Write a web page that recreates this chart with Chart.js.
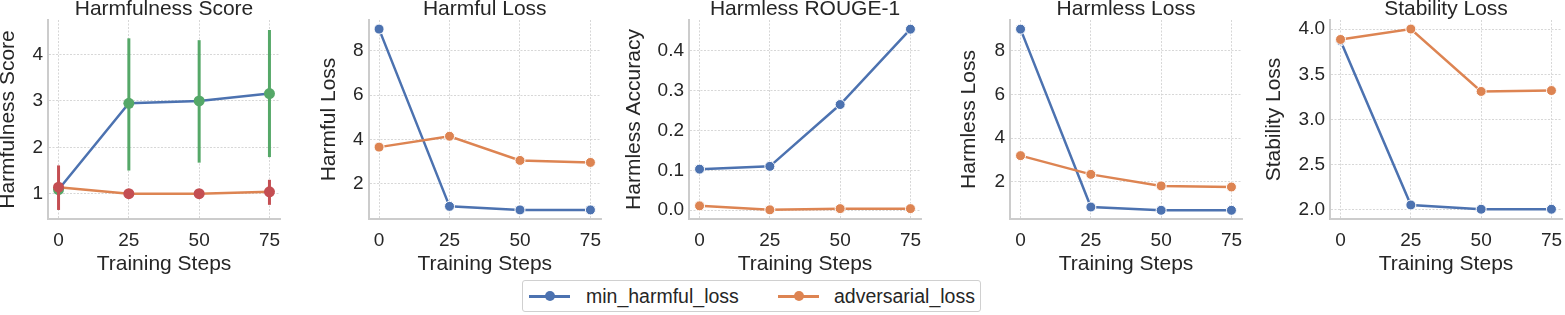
<!DOCTYPE html>
<html>
<head>
<meta charset="utf-8">
<script src="https://cdn.jsdelivr.net/npm/chart.js@4.4.0/dist/chart.umd.min.js"></script>
<style>
  html, body { margin: 0; padding: 0; background: #fff; }
  body { width: 1565px; height: 315px; position: relative; overflow: hidden; font-family: 'Liberation Sans', Arial, sans-serif; }
  canvas { position: absolute; }
  #legend { position: absolute; left: 522px; top: 280px; width: 459px; height: 32px; border: 1px solid #d0d0d0; border-radius: 3px; box-sizing: border-box; }
  .item { position: absolute; top: 0; height: 30px; line-height: 30px; font-size: 19.5px; color: #262626; }
  .swatch { position: absolute; top: 14px; width: 41px; height: 2.5px; }
  .dot { position: absolute; top: -4px; left: 16px; width: 10px; height: 10px; border-radius: 50%; }
</style>
</head>
<body>
<div id="legend">
  <div class="swatch" style="left:6px;background:#4C72B0"><div class="dot" style="background:#4C72B0"></div></div>
  <div class="item" style="left:63px">min_harmful_loss</div>
  <div class="swatch" style="left:255px;background:#DD8452"><div class="dot" style="background:#DD8452"></div></div>
  <div class="item" style="left:311px">adversarial_loss</div>
</div>
<script>
// training steps shared by all panels
const steps = [0, 25, 50, 75];
const xTicks = [0, 25, 50, 75];

// Harmfulness Score (line + point estimates with error bars)
const scoreMin = [1.09, 2.95, 3.00, 3.16];
const scoreAdv = [1.14, 1.00, 1.00, 1.04];
const scoreMinLo = [1.09, 1.50, 1.67, 1.79];
const scoreMinHi = [1.09, 4.35, 4.31, 4.53];
const scoreAdvLo = [0.65, 1.00, 1.00, 0.76];
const scoreAdvHi = [1.61, 1.00, 1.00, 1.30];

const harmfulLossMin = [8.98, 0.99, 0.83, 0.83];
const harmfulLossAdv = [3.66, 4.15, 3.06, 2.97];

const rougeMin = [0.103, 0.110, 0.265, 0.454];
const rougeAdv = [0.011, 0.001, 0.004, 0.004];

const harmlessLossMin = [9.00, 0.83, 0.68, 0.68];
const harmlessLossAdv = [3.19, 2.33, 1.80, 1.75];

const stabilityMin = [3.87, 2.055, 2.008, 2.008];
const stabilityAdv = [3.885, 4.00, 3.31, 3.32];

const titles = ['Harmfulness Score', 'Harmful Loss', 'Harmless ROUGE-1', 'Harmless Loss', 'Stability Loss'];
const yLabels = ['Harmfulness Score', 'Harmful Loss', 'Harmless Accuracy', 'Harmless Loss', 'Stability Loss'];
const yTicks = [[1, 2, 3, 4], [2, 4, 6, 8], [0, 0.1, 0.2, 0.3, 0.4], [2, 4, 6, 8], [2, 2.5, 3, 3.5, 4]];
const yMin = [0.455, 0.42, -0.022, 0.28, 1.9];
const yMax = [4.745, 9.39, 0.477, 9.42, 4.1];

const BLUE = '#4C72B0', ORANGE = '#DD8452', GREEN = '#55A868', RED = '#C44E52';
const FONT = "'Liberation Sans', Arial, sans-serif";
const TXT = '#262626';
const GRID = '#d2d2d2';

const pts = arr => arr.map((v, i) => ({ x: steps[i], y: v }));

function lineSet(label, arr, color, order, markers) {
  return {
    label, data: pts(arr), order,
    borderColor: color, backgroundColor: color, borderWidth: 2.5,
    pointRadius: markers ? 5 : 0, pointBorderColor: '#fff', pointBorderWidth: 1,
    pointBackgroundColor: color
  };
}
function pointSet(arr, lo, hi, color, order) {
  return {
    data: pts(arr), order, showLine: false, errLo: lo, errHi: hi,
    borderColor: color, backgroundColor: color,
    pointRadius: 5.5, pointBorderWidth: 0, pointBackgroundColor: color
  };
}

// vertical error bars drawn just before their dataset's points
const errorBars = {
  id: 'errorBars',
  beforeDatasetDraw(chart, args) {
    const ds = chart.data.datasets[args.index];
    if (!ds.errLo) return;
    const xs = chart.scales.x, ys = chart.scales.y, ctx = chart.ctx;
    ctx.save();
    ctx.strokeStyle = ds.backgroundColor;
    ctx.lineWidth = 3;
    ds.errLo.forEach((lo, i) => {
      const hi = ds.errHi[i];
      if (hi <= lo) return;
      const x = xs.getPixelForValue(steps[i]);
      ctx.beginPath();
      ctx.moveTo(x, ys.getPixelForValue(lo));
      ctx.lineTo(x, ys.getPixelForValue(hi));
      ctx.stroke();
    });
    ctx.restore();
  }
};

const datasets = [
  [lineSet('min_harmful_loss', scoreMin, BLUE, 4, false), lineSet('adversarial_loss', scoreAdv, ORANGE, 3, false),
   pointSet(scoreMin, scoreMinLo, scoreMinHi, GREEN, 2), pointSet(scoreAdv, scoreAdvLo, scoreAdvHi, RED, 1)],
  [lineSet('min_harmful_loss', harmfulLossMin, BLUE, 2, true), lineSet('adversarial_loss', harmfulLossAdv, ORANGE, 1, true)],
  [lineSet('min_harmful_loss', rougeMin, BLUE, 2, true), lineSet('adversarial_loss', rougeAdv, ORANGE, 1, true)],
  [lineSet('min_harmful_loss', harmlessLossMin, BLUE, 2, true), lineSet('adversarial_loss', harmlessLossAdv, ORANGE, 1, true)],
  [lineSet('min_harmful_loss', stabilityMin, BLUE, 2, true), lineSet('adversarial_loss', stabilityAdv, ORANGE, 1, true)]
];

// layout: left spine x of each plot, and offset of the y-label centre from it
const spines = [48, 368.5, 689, 1010, 1330];
const labelOffsets = [-39, -38.5, -54.5, -40, -55.5];
const plotWidth = 232;

titles.forEach((title, p) => {
  const canvasLeft = Math.round(spines[p] + labelOffsets[p] - 12.6);
  const axisW = spines[p] - canvasLeft;
  const cv = document.createElement('canvas');
  cv.width = Math.ceil(axisW + plotWidth + 20);
  cv.height = 278;
  cv.style.left = canvasLeft + 'px';
  cv.style.top = '-1px';
  document.body.appendChild(cv);
  const decimals = p === 2 || p === 4 ? 1 : 0;

  new Chart(cv, {
    type: 'line',
    data: { datasets: datasets[p] },
    plugins: [errorBars],
    options: {
      responsive: false, animation: false, devicePixelRatio: 1,
      layout: { padding: { left: 0, right: 20, top: 0, bottom: 0 } },
      plugins: {
        legend: { display: false }, tooltip: { enabled: false },
        title: { display: true, text: title, fullSize: false, color: TXT,
                 font: { family: FONT, size: 21, weight: 'normal', lineHeight: 1 }, padding: 0 }
      },
      scales: {
        x: {
          type: 'linear', min: -3.75, max: 78.75,
          afterBuildTicks: s => { s.ticks = xTicks.map(v => ({ value: v })); },
          afterFit: s => { s.height = 58; },
          ticks: { color: TXT, font: { family: FONT, size: 19 }, padding: 10 },
          grid: { color: GRID, lineWidth: 0.9, drawTicks: false },
          // in v4 border.dash styles the grid lines
          border: { color: '#cccccc', width: 2, dash: [2, 1.5] },
          title: { display: true, text: 'Training Steps', color: TXT, padding: 0,
                   font: { family: FONT, size: 21, lineHeight: 1.2 } }
        },
        y: {
          min: yMin[p], max: yMax[p],
          afterBuildTicks: s => { s.ticks = yTicks[p].map(v => ({ value: v })); },
          afterFit: s => { s.width = axisW; },
          ticks: { color: TXT, font: { family: FONT, size: 19 }, padding: 5,
                   callback: v => v.toFixed(decimals) },
          grid: { color: GRID, lineWidth: 0.9, drawTicks: false },
          border: { color: '#cccccc', width: 2, dash: [2, 1.5] },
          title: { display: true, text: yLabels[p], color: TXT, padding: 0,
                   font: { family: FONT, size: 21, lineHeight: 1.2 } }
        }
      }
    }
  });
});
</script>
</body>
</html>
